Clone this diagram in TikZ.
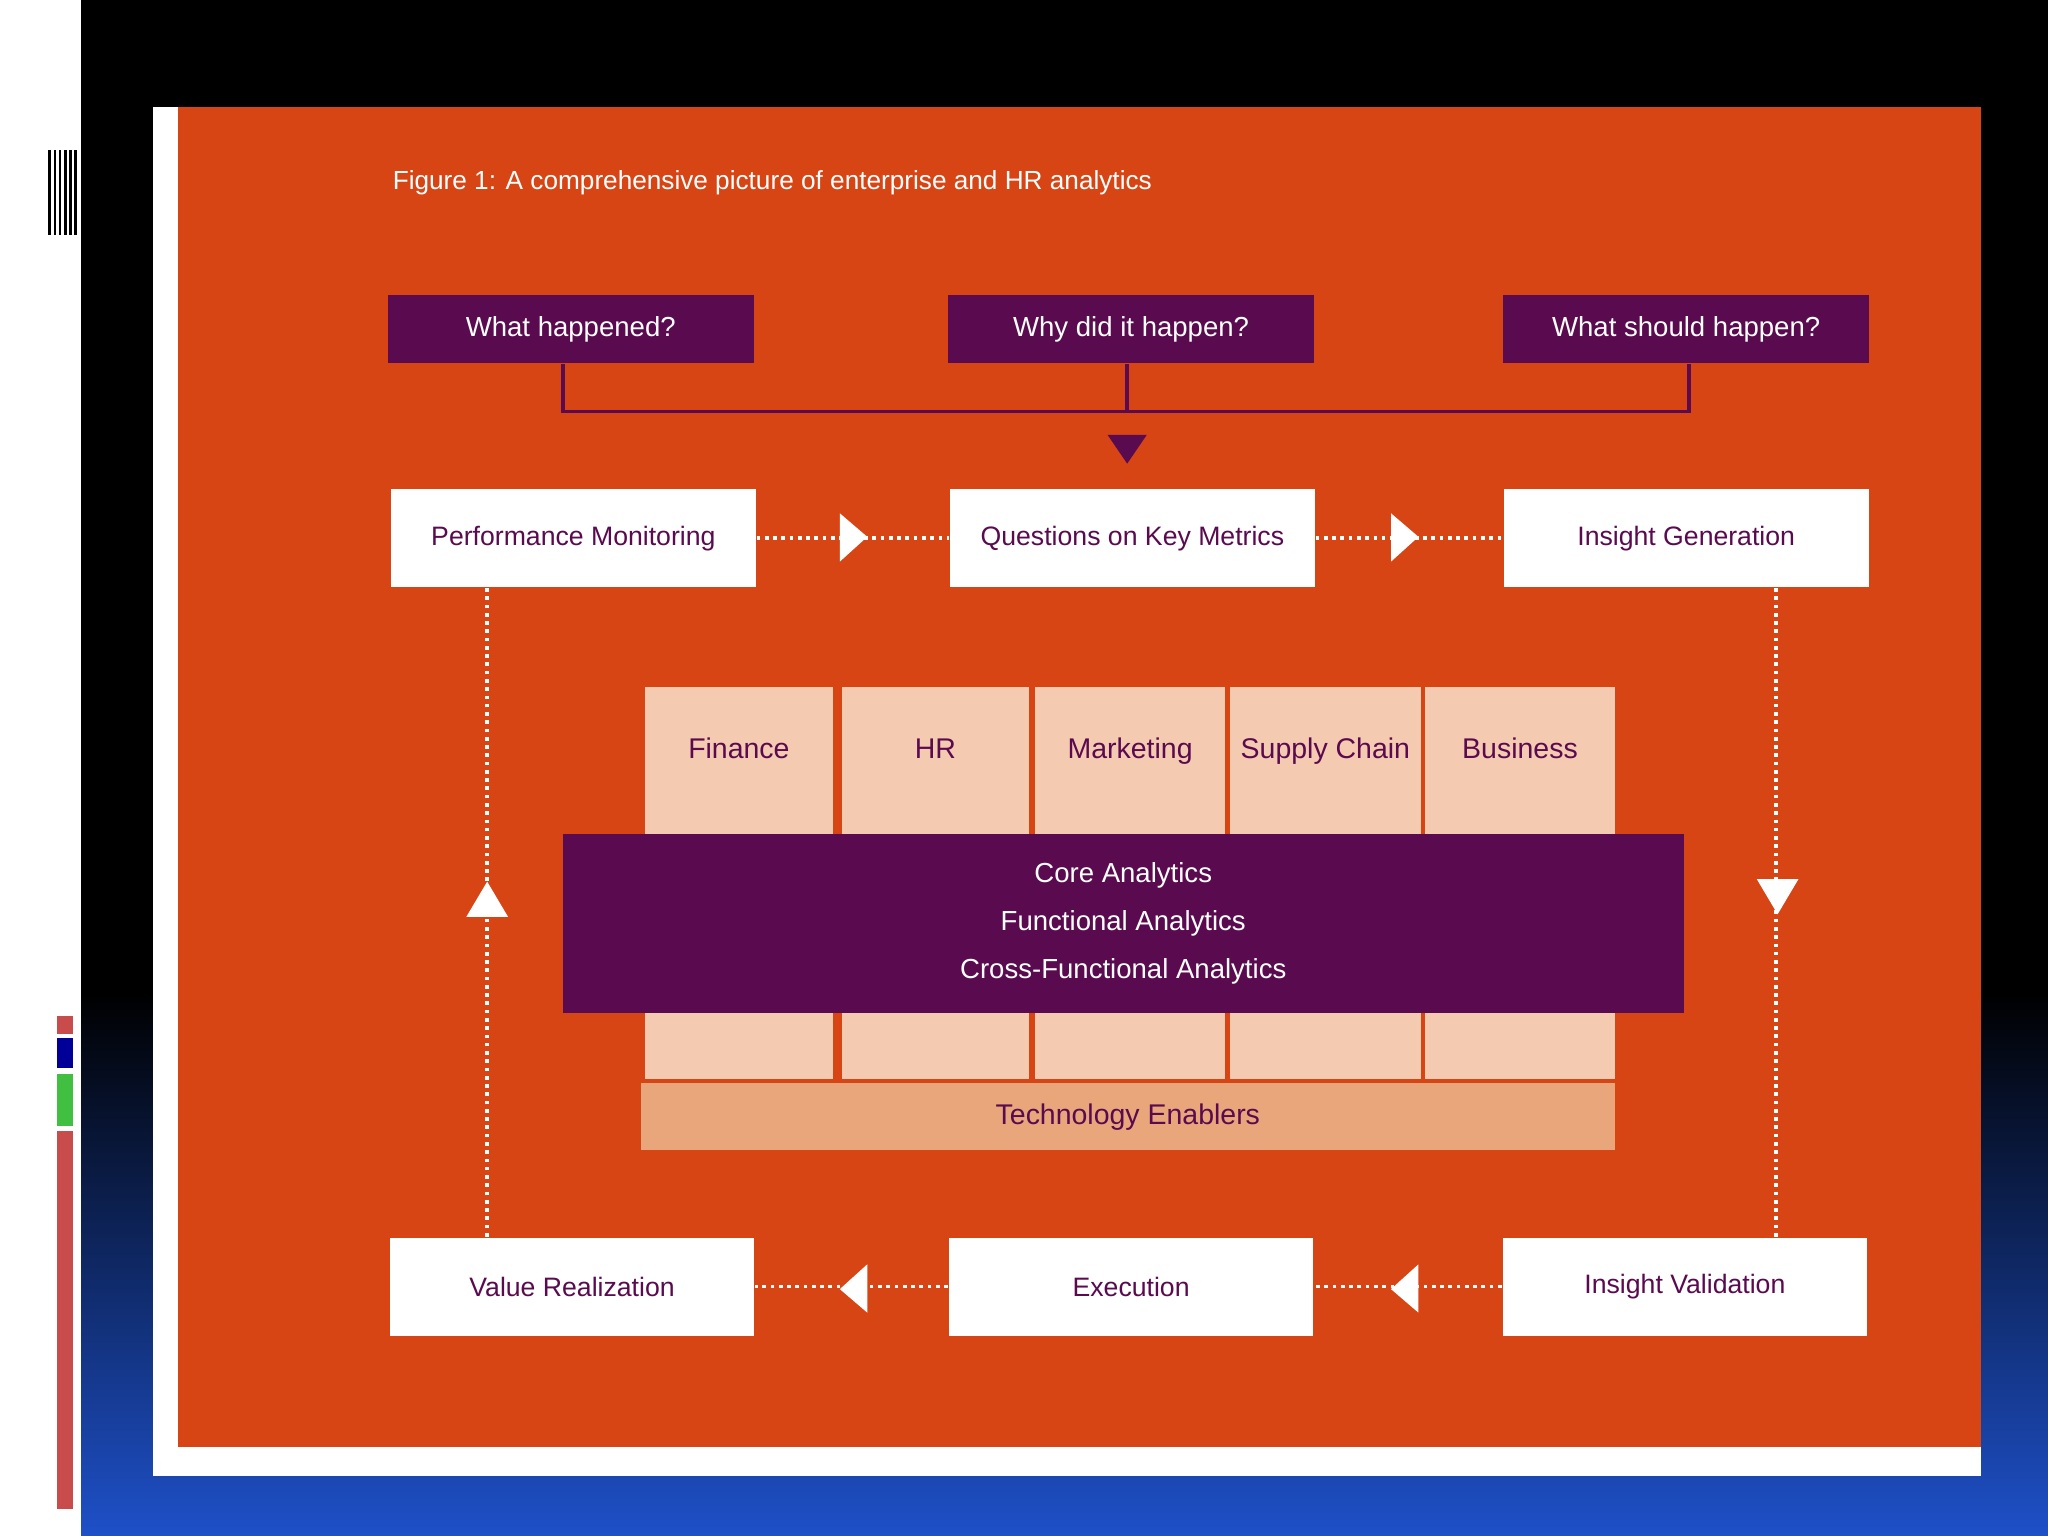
\documentclass[tikz,border=0pt]{standalone}
\usepackage{fontspec}
\setmainfont{Liberation Sans}
\usetikzlibrary{positioning,calc,arrows.meta}
\definecolor{hrorange}{RGB}{216,69,21}
\definecolor{hrpurple}{RGB}{90,10,78}
\definecolor{hrpeach}{RGB}{244,203,176}
\definecolor{hrtan}{RGB}{233,166,122}
\definecolor{slideblue}{RGB}{30,80,200}

\tikzset{
  question/.style={draw=none, fill=hrpurple, text=white, minimum width=2.8cm, minimum height=0.52cm, inner sep=0pt, font=\fontsize{6}{7}\selectfont},
  stage/.style={draw=none, fill=white, text=hrpurple, minimum width=2.79cm, minimum height=0.75cm, inner sep=0pt, font=\fontsize{5.8}{7}\selectfont},
  func/.style={draw=none, fill=hrpeach, text=hrpurple, anchor=north west, minimum width=1.44cm, minimum height=3cm, text height=0.55cm, text depth=2.45cm, inner sep=0pt, font=\fontsize{6.2}{7}\selectfont},
  flow/.style={white, densely dotted, thick},
  tip/.style={white, fill=white},
}

\begin{document}
\begin{tikzpicture}[x=0.01cm, y=-0.01cm]
  \useasboundingbox (0,0) rectangle (1568,1176);
  % slide background
  \fill[black] (62,0) rectangle (1568,1176);
  \shade[top color=black, bottom color=slideblue] (62,760) rectangle (1568,1176);
  \fill[white] (0,0) rectangle (62,1176);
  \foreach \x in {37,41,45,49,53,57} \fill[black] (\x,115) rectangle (\x+2,180);
  \fill[red!70!black!70] (44,778) rectangle (56,792);
  \fill[blue!60!black] (44,795) rectangle (56,818);
  \fill[green!50!gray] (44,822) rectangle (56,862);
  \fill[red!70!black!70] (44,866) rectangle (56,1155);

  % frame
  \fill[white] (117,82) rectangle (1517,1130);
  \fill[hrorange] (136,82) rectangle (1517,1108);

  \node[anchor=west, inner sep=0pt, text=white, font=\fontsize{5.7}{7}\selectfont] (title) at (300,140) {Figure 1: A comprehensive picture of enterprise and HR analytics};

  % questions
  \node[question] (what) at (437,252) {What happened?};
  \node[question] (why) at (866,252) {Why did it happen?};
  \node[question] (should) at (1291,252) {What should happen?};
  \coordinate (busL) at (431,315);
  \coordinate (busR) at (1293,315);
  \coordinate (busM) at (863,315);
  \draw[hrpurple, thick] (what.south -| busL) -- (busL) -- (busR) -- (should.south -| busR);
  \draw[hrpurple, thick] (why.south -| busM) -- (busM);

  % stages
  \node[stage] (perf) at (439,412) {Performance Monitoring};
  \node[stage] (quest) at (867,412) {Questions on Key Metrics};
  \node[stage] (insight) at (1291,412) {Insight Generation};
  \node[stage] (value) at (438,985) {Value Realization};
  \node[stage] (exec) at (866,985) {Execution};
  \node[stage] (valid) at (1290,985) {Insight Validation};
  \fill[hrpurple] (848,333) -- (878,333) -- (863,355) -- cycle;

  \draw[flow] (perf) -- (quest);
  \draw[flow] (quest) -- (insight);
  \draw[flow] (valid) -- (exec);
  \draw[flow] (exec) -- (value);
  \draw[flow] (insight.south -| 1360,0) -- (valid.north -| 1360,0);
  \draw[flow] (value.north -| 373,0) -- (perf.south -| 373,0);
  \fill[tip] (643,393) -- (643,430) -- (664,411) -- cycle;
  \fill[tip] (1065,393) -- (1065,430) -- (1086,411) -- cycle;
  \fill[tip] (664,968) -- (664,1005) -- (643,987) -- cycle;
  \fill[tip] (1086,968) -- (1086,1005) -- (1065,987) -- cycle;
  \fill[tip] (1345,673) -- (1377,673) -- (1361,700) -- cycle;
  \fill[tip] (357,702) -- (389,702) -- (373,675) -- cycle;

  % functions
  \node[func] (fin) at (493,525) {Finance};
  \node[func, minimum width=1.43cm] (hr) at (644,525) {HR};
  \node[func, minimum width=1.45cm] (mkt) at (792,525) {Marketing};
  \node[func, minimum width=1.46cm] (sup) at (941,525) {Supply Chain};
  \node[func, minimum width=1.46cm] (bus) at (1090,525) {Business};
  \node[fill=hrtan, text=hrpurple, minimum width=7.45cm, minimum height=0.51cm, inner sep=0pt, font=\fontsize{6.2}{7}\selectfont] (tech) at (863.5,855) {Technology Enablers};
  \node[fill=hrpurple, text=white, minimum width=8.58cm, minimum height=1.37cm, inner sep=0pt, align=center, font=\fontsize{6}{10.5}\selectfont] (core) at (860,707) {Core Analytics\\Functional Analytics\\Cross-Functional Analytics};
\end{tikzpicture}
\end{document}
